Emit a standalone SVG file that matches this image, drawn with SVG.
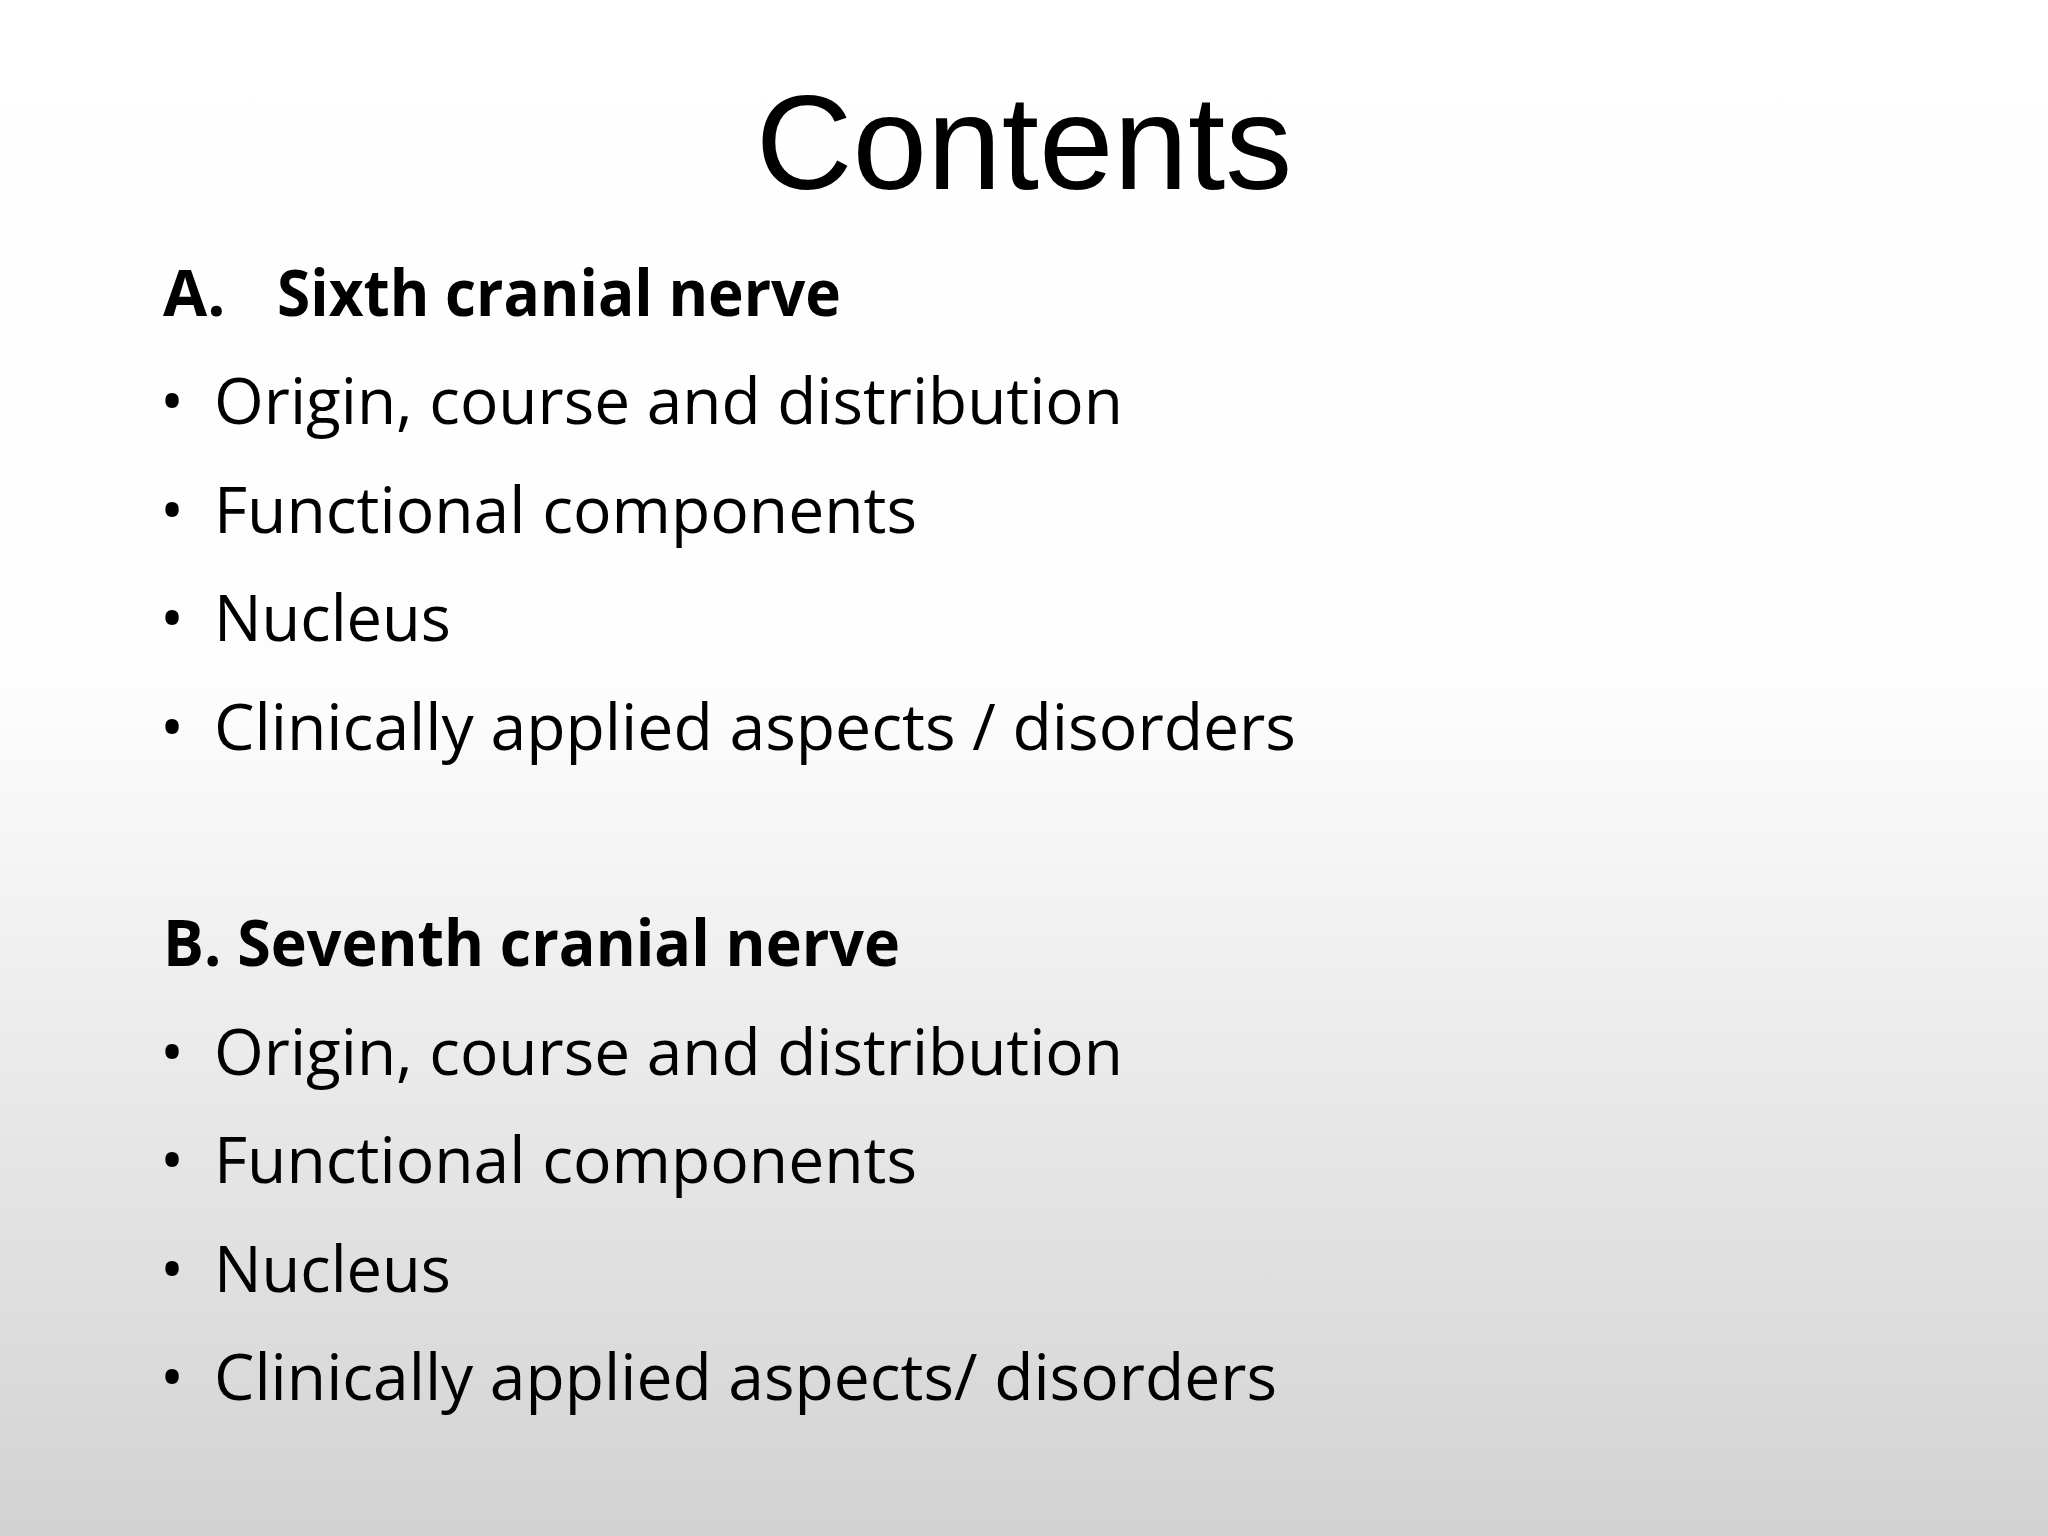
<svg xmlns="http://www.w3.org/2000/svg" width="2048" height="1536" viewBox="0 0 2048 1536">
<defs>
<linearGradient id="bg" x1="0" y1="0" x2="0" y2="1">
<stop offset="0" stop-color="#ffffff"/>
<stop offset="0.45" stop-color="#fdfdfd"/>
<stop offset="1" stop-color="#d2d2d2"/>
</linearGradient>
<style>
.t{font-family:"Liberation Sans",Arial,sans-serif;font-size:134px;fill:#000}
.b{font-family:"Open Sans","Noto Sans",sans-serif;font-size:64px;fill:#000}
.h{font-family:"Open Sans","Noto Sans",sans-serif;font-size:64px;font-weight:bold;fill:#000}
</style>
</defs>
<rect width="2048" height="1536" fill="url(#bg)"/>
<text class="t" x="1024" y="189" text-anchor="middle">Contents</text>
<g id="sectionA">
<text class="h" x="163" y="316">A.</text>
<text class="h" x="277" y="316" textLength="564" lengthAdjust="spacingAndGlyphs">Sixth cranial nerve</text>
<text class="b" x="160" y="424">•</text><text class="b" x="214" y="424" textLength="909" lengthAdjust="spacingAndGlyphs">Origin, course and distribution</text>
<text class="b" x="160" y="533">•</text><text class="b" x="214" y="533" textLength="703" lengthAdjust="spacingAndGlyphs">Functional components</text>
<text class="b" x="160" y="641">•</text><text class="b" x="214" y="641" textLength="237" lengthAdjust="spacingAndGlyphs">Nucleus</text>
<text class="b" x="160" y="750">•</text><text class="b" x="214" y="750" textLength="1082" lengthAdjust="spacingAndGlyphs">Clinically applied aspects / disorders</text>
</g>
<g id="sectionB">
<text class="h" x="163" y="966" textLength="737" lengthAdjust="spacingAndGlyphs">B. Seventh cranial nerve</text>
<text class="b" x="160" y="1075">•</text><text class="b" x="214" y="1075" textLength="909" lengthAdjust="spacingAndGlyphs">Origin, course and distribution</text>
<text class="b" x="160" y="1183">•</text><text class="b" x="214" y="1183" textLength="703" lengthAdjust="spacingAndGlyphs">Functional components</text>
<text class="b" x="160" y="1292">•</text><text class="b" x="214" y="1292" textLength="237" lengthAdjust="spacingAndGlyphs">Nucleus</text>
<text class="b" x="160" y="1400">•</text><text class="b" x="214" y="1400" textLength="1063" lengthAdjust="spacingAndGlyphs">Clinically applied aspects/ disorders</text>
</g>
<g id="connectors"/>
</svg>
